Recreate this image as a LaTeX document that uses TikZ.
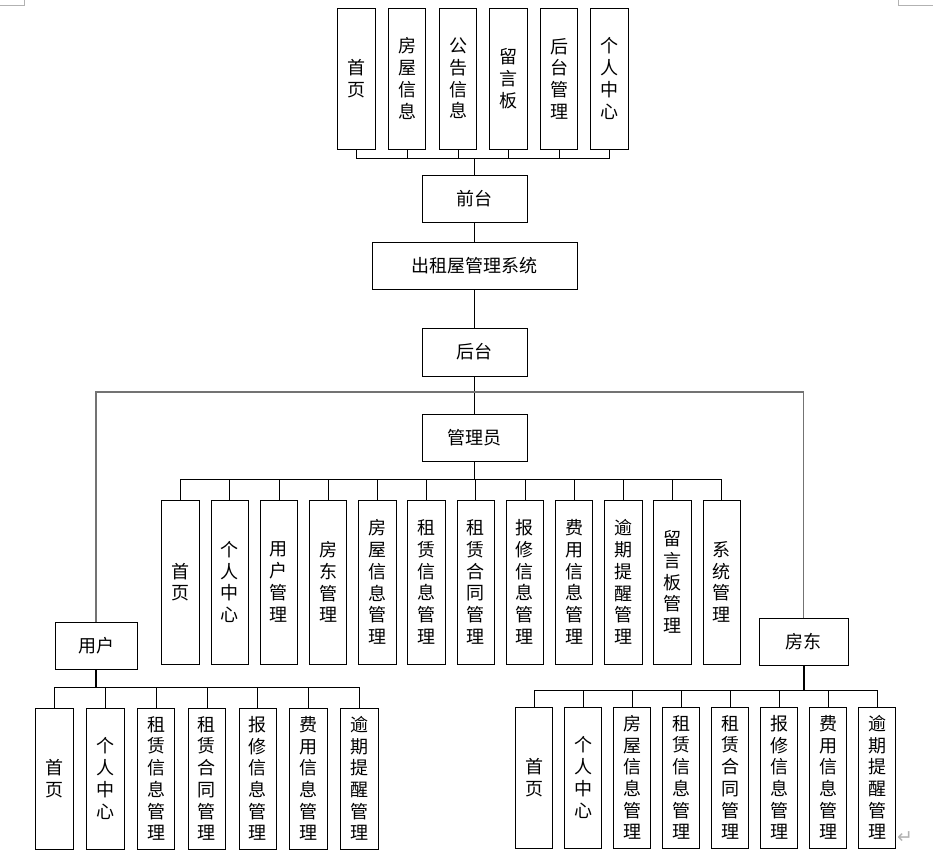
\documentclass[tikz,border=0pt]{standalone}
\usepackage{fontspec}
\newfontfamily\cjk{Noto Sans CJK SC}
\newfontfamily\symfont{DejaVu Sans}
\usepackage{tikz}
\usetikzlibrary{calc}
\definecolor{LineGray}{rgb}{0.45,0.45,0.45}
\definecolor{MarkGray}{rgb}{0.7,0.7,0.7}
\tikzset{
    box/.style = {draw, line width=0.9pt, inner sep=0pt, align=center,
        font=\cjk\fontsize{18}{21.7}\selectfont},
    tallbox/.style = {box, minimum width=37.5pt, minimum height=141pt},
    adminbox/.style = {box, minimum width=37.5pt, minimum height=164pt},
    widebox/.style = {box, minimum width=105pt, minimum height=47pt},
    link/.style = {line width=0.8pt},
    stem/.style = {line width=2pt},
}

\begin{document}
\begin{tikzpicture}[x=1pt, y=-1pt]
    \useasboundingbox (0,0) rectangle (947,860);
    %%Page corner marks
    \draw[MarkGray, line width=0.8pt] (0,5) -- (24,5) -- (24,0);
    \draw[MarkGray, line width=0.8pt] (898,0) -- (898,5) -- (933,5);
    %%Front end
    \node[tallbox] (t1) at (356.5,78.5) {首\\页};
    \node[tallbox] (t2) at (407,78.5) {房\\屋\\信\\息};
    \node[tallbox] (t3) at (458,78.5) {公\\告\\信\\息};
    \node[tallbox] (t4) at (508.5,78.5) {留\\言\\板};
    \node[tallbox] (t5) at (559,78.5) {后\\台\\管\\理};
    \node[tallbox] (t6) at (609.5,78.5) {个\\人\\中\\心};
    \node[widebox] (front) at (474.5,198.5) {前台};
    \node[widebox, minimum width=205pt] (system) at (474.5,265.5) {出租屋管理系统};
    \node[widebox, minimum height=48pt] (back) at (474.5,352) {后台};
    \node[widebox] (admin) at (474.5,437.5) {管理员};
    \coordinate (topbus) at (474.5,158);
    \coordinate (split) at (474.5,392);
    \foreach \i in {1,...,6}
        \draw[link] (t\i.south) -- (t\i.south |- topbus) -- (topbus);
    \draw[link] (topbus) -- (front.north);
    \draw[link] (front.south) -- (system.north);
    \draw[link] (system.south) -- (back.north);
    \draw[link] (back.south) -- (admin.north);
    %%Administrator
    \node[adminbox] (a1) at (180.5,582) {首\\页};
    \node[adminbox] (a2) at (229.7,582) {个\\人\\中\\心};
    \node[adminbox] (a3) at (278.9,582) {用\\户\\管\\理};
    \node[adminbox] (a4) at (328.1,582) {房\\东\\管\\理};
    \node[adminbox] (a5) at (377.3,582) {房\\屋\\信\\息\\管\\理};
    \node[adminbox] (a6) at (426.5,582) {租\\赁\\信\\息\\管\\理};
    \node[adminbox] (a7) at (475.7,582) {租\\赁\\合\\同\\管\\理};
    \node[adminbox] (a8) at (524.9,582) {报\\修\\信\\息\\管\\理};
    \node[adminbox] (a9) at (574.1,582) {费\\用\\信\\息\\管\\理};
    \node[adminbox] (a10) at (623.3,582) {逾\\期\\提\\醒\\管\\理};
    \node[adminbox] (a11) at (672.5,582) {留\\言\\板\\管\\理};
    \node[adminbox] (a12) at (721.7,582) {系\\统\\管\\理};
    \coordinate (adminbus) at (474.5,479);
    \draw[link] (admin.south) -- (adminbus);
    \foreach \i in {1,...,12}
        \draw[link] (a\i.north) -- (a\i.north |- adminbus) -- (adminbus);
    %%User and landlord
    \node[widebox, minimum width=82pt] (user) at (96,645.5) {用户};
    \node[widebox, minimum width=89pt] (landlord) at (803.5,641.5) {房东};
    \draw[LineGray, line width=1.6pt] (user.north) |- (split) -| (landlord.north);
    %%User modules
    \node[tallbox] (u1) at (54.5,778.5) {首\\页};
    \node[tallbox] (u2) at (105.3,778.5) {个\\人\\中\\心};
    \node[tallbox] (u3) at (156.1,778.5) {租\\赁\\信\\息\\管\\理};
    \node[tallbox] (u4) at (206.9,778.5) {租\\赁\\合\\同\\管\\理};
    \node[tallbox] (u5) at (257.7,778.5) {报\\修\\信\\息\\管\\理};
    \node[tallbox] (u6) at (308.5,778.5) {费\\用\\信\\息\\管\\理};
    \node[tallbox] (u7) at (359.3,778.5) {逾\\期\\提\\醒\\管\\理};
    \coordinate (userbus) at (96,687);
    \draw[stem] (user.south) -- (userbus);
    \foreach \i in {1,...,7}
        \draw[link] (u\i.north) -- (u\i.north |- userbus) -- (userbus);
    %%Landlord modules
    \node[tallbox] (l1) at (534,777.5) {首\\页};
    \node[tallbox] (l2) at (583,777.5) {个\\人\\中\\心};
    \node[tallbox] (l3) at (632,777.5) {房\\屋\\信\\息\\管\\理};
    \node[tallbox] (l4) at (681,777.5) {租\\赁\\信\\息\\管\\理};
    \node[tallbox] (l5) at (730,777.5) {租\\赁\\合\\同\\管\\理};
    \node[tallbox] (l6) at (779,777.5) {报\\修\\信\\息\\管\\理};
    \node[tallbox] (l7) at (828,777.5) {费\\用\\信\\息\\管\\理};
    \node[tallbox] (l8) at (877,777.5) {逾\\期\\提\\醒\\管\\理};
    \coordinate (landbus) at (803.5,690);
    \draw[stem] (landlord.south) -- (landbus);
    \foreach \i in {1,...,8}
        \draw[link] (l\i.north) -- (l\i.north |- landbus) -- (landbus);
    %%Paragraph mark
    \node[MarkGray, font=\symfont\fontsize{19}{19}\selectfont, anchor=west, inner sep=0pt] (mark) at (897,838) {↵};
\end{tikzpicture}
\end{document}
